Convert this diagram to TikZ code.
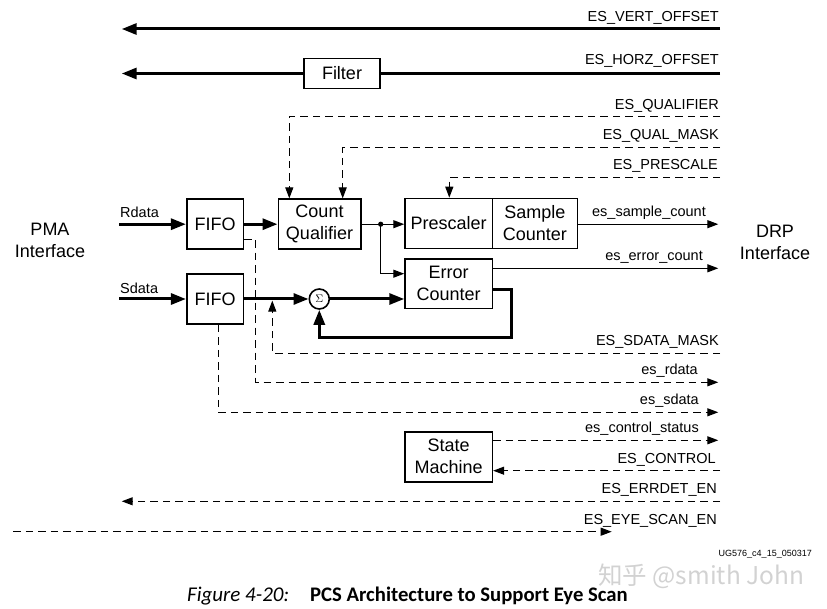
\documentclass[tikz,border=0pt]{standalone}
\usepackage{fontspec}
\setmainfont{Liberation Sans}
\newfontfamily\capfont{Carlito}
\newfontfamily\cjkfont{Noto Sans CJK SC}
\usetikzlibrary{arrows.meta}
\begin{document}
\begin{tikzpicture}[x=1pt,y=-1pt,
  box/.style={draw, line width=1.6pt, inner sep=0pt, align=center, font=\fontsize{18}{22}\selectfont},
  sig/.style={font=\fontsize{14.5}{16}\selectfont, inner sep=0pt, anchor=base east},
  thickl/.style={line width=3pt},
  thinl/.style={line width=1.2pt},
  dsh/.style={line width=1.1pt, dash pattern=on 7.5pt off 5pt},
  bigtip/.style={-{Triangle[length=15pt,width=11pt]}},
  smalltip/.style={-{Triangle[length=11pt,width=8pt]}},
]
\useasboundingbox (0,0) rectangle (827,609);

% boxes
\node[box, minimum width=76pt, minimum height=30pt] (filter) at (342,73.5) {Filter};
\node[box, minimum width=56.6pt, minimum height=50pt] (fifo1) at (215,224.2) {FIFO};
\node[box, minimum width=82.4pt, minimum height=50pt] (cq) at (319.5,224.2) {Count\\Qualifier};
\node[box, minimum width=56.6pt, minimum height=50pt] (fifo2) at (215,299) {FIFO};
\node[box, minimum width=87.3pt, minimum height=50pt] (pre) at (448.7,223.5) {Prescaler};
\node[box, minimum width=85pt, minimum height=50pt] (samp) at (534.8,223.5) {Sample\\Counter};
\node[box, minimum width=87.3pt, minimum height=49.3pt] (err) at (448.7,283.7) {Error\\Counter};
\node[draw, circle, line width=1.6pt, minimum size=20pt, inner sep=0pt] (sum) at (319.3,299) {\fontsize{11}{11}\selectfont$\Sigma$};
\node[box, minimum width=87.3pt, minimum height=50pt] (sm) at (448.7,456.7) {State\\Machine};

\node[font=\fontsize{18}{22}\selectfont, align=center] (pma) at (50,240) {PMA\\Interface};
\node[font=\fontsize{18}{22}\selectfont, align=center] (drp) at (775,242) {DRP\\Interface};

% top thick signals
\coordinate (vR) at (720,29); \coordinate (vL) at (121.7,29);
\draw[thickl,bigtip] (vR) -- (vL);
\node[sig] (lvert) at (719,21.5) {ES\_VERT\_OFFSET};

\coordinate (hR) at (720,73.5); \coordinate (hL) at (121.7,73.5);
\draw[thickl] (hR) -- (filter.east);
\draw[thickl,bigtip] (filter.west) -- (hL);
\node[sig] (lhorz) at (719,64.5) {ES\_HORZ\_OFFSET};

% dashed control inputs
\coordinate (qR) at (720,116.7); \coordinate (qD) at (289.3,116.7);
\draw[dsh,smalltip] (qR) -- (qD) -- (qD |- cq.north);
\node[sig] (lqual) at (719,109.5) {ES\_QUALIFIER};

\coordinate (mR) at (720,147.7); \coordinate (mD) at (342.7,147.7);
\draw[dsh,smalltip] (mR) -- (mD) -- (mD |- cq.north);
\node[sig] (lmask) at (719,140) {ES\_QUAL\_MASK};

\coordinate (pR) at (720,177.3); \coordinate (pD) at (449.3,177.3);
\draw[dsh,smalltip] (pR) -- (pD) -- (pD |- pre.north);
\node[sig] (lpre) at (718,170) {ES\_PRESCALE};

% data path
\coordinate (rin) at (119,224.2);
\draw[thickl,bigtip] (rin) -- (fifo1.west);
\node[font=\fontsize{14.5}{16}\selectfont, inner sep=0pt, anchor=base west] (lr) at (120,218) {Rdata};
\draw[thickl,bigtip] (fifo1.east) -- (cq.west);

\coordinate (dot) at (380.7,224.2);
\fill (dot) circle (2.6pt);
\draw[thinl,smalltip] (cq.east) -- (cq.east -| pre.west);
\draw[thinl,smalltip] (dot) |- ([yshift=10pt]err.west);

\coordinate (sin) at (119,299);
\draw[thickl,bigtip] (sin) -- (fifo2.west);
\node[font=\fontsize{14.5}{16}\selectfont, inner sep=0pt, anchor=base west] (ls) at (120,293.3) {Sdata};
\draw[thickl,bigtip] (fifo2.east) -- (sum.west);
\draw[thickl,bigtip] (sum.east) -- (sum.east -| err.west);

\coordinate (fb) at (511.7,338);
\draw[thickl,bigtip,line join=miter] ([yshift=-5.6pt]err.east) -| (fb) -| (sum.south);

% outputs
\coordinate (sR) at (718.3,224.2);
\draw[thinl,smalltip] (samp.east |- sR) -- (sR);
\node[sig] (lsc) at (706,216.5) {es\_sample\_count};
\coordinate (eR) at (718.3,268.3);
\draw[thinl,smalltip] (err.east |- eR) -- (eR);
\node[sig] (lec) at (703,260.5) {es\_error\_count};

\coordinate (smR) at (720,353.3); \coordinate (smD) at (272.3,353.3); \coordinate (smT) at (272.3,300.6);
\draw[dsh,smalltip] (smR) -- (smD) -- (smT);
\node[sig] (lsm) at (719,346) {ES\_SDATA\_MASK};

\coordinate (rdD) at (255.7,382.3); \coordinate (rdR) at (718.3,382.3);
\draw[dsh,smalltip] ([yshift=-15pt]fifo1.east) -| (rdD) -- (rdR);
\node[sig] (lrd) at (698,374.8) {es\_rdata};

\coordinate (sdR) at (718.3,412.3);
\draw[dsh,smalltip] ([xshift=3.3pt]fifo2.south) |- (sdR);
\node[sig] (lsd) at (699,404.8) {es\_sdata};

\coordinate (csR) at (718.3,440.3);
\draw[dsh,smalltip] (sm.east |- csR) -- (csR);
\node[sig] (lcs) at (699,432.5) {es\_control\_status};

\coordinate (ctR) at (720,470.7);
\draw[dsh,smalltip] (ctR) -- (ctR -| sm.east);
\node[sig] (lct) at (716,463) {ES\_CONTROL};

\coordinate (edR) at (720,501.3); \coordinate (edL) at (121.7,501.3);
\draw[dsh,smalltip] (edR) -- (edL);
\node[sig] (led) at (717,493.5) {ES\_ERRDET\_EN};

\coordinate (esL) at (13.3,531.7); \coordinate (esR) at (611.7,531.7);
\draw[dsh,smalltip] (esL) -- (esR);
\node[sig] (les) at (717,524) {ES\_EYE\_SCAN\_EN};

% footer
\node[font=\fontsize{9}{10}\selectfont, inner sep=0pt, anchor=base east] (ug) at (812,556.5) {UG576\_c4\_15\_050317};
\node[text=gray!35, font=\cjkfont\fontsize{24.5}{24}\selectfont, inner sep=0pt, anchor=base west] (wm) at (598,584.5) {知乎 @smith John};
\node[font=\capfont\fontsize{21}{22}\selectfont\itshape, inner sep=0pt, anchor=base west] (cap1) at (187,601) {Figure 4-20:};
\node[font=\capfont\fontsize{20.7}{22}\selectfont\bfseries, inner sep=0pt, anchor=base west] (cap2) at (310,601) {PCS Architecture to Support Eye Scan};
\end{tikzpicture}
\end{document}
